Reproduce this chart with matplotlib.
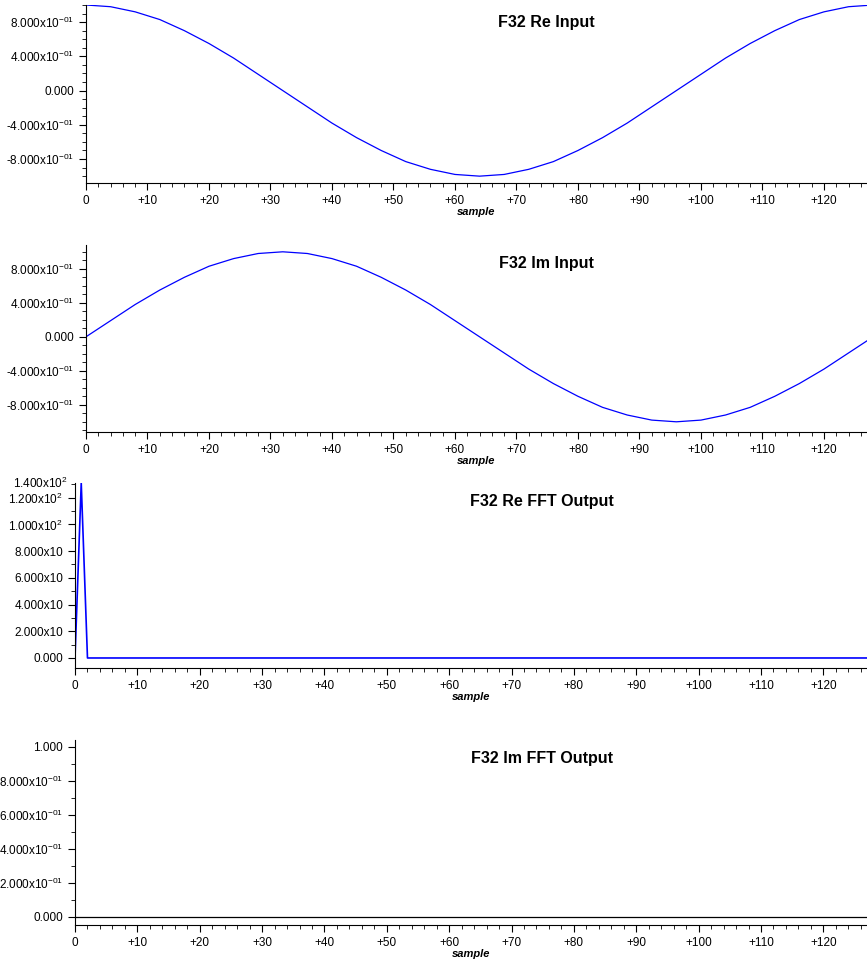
import matplotlib
matplotlib.use("Agg")
import matplotlib.pyplot as plt
from matplotlib.ticker import MultipleLocator

plt.rcParams["font.family"] = ["Liberation Sans", "DejaVu Sans"]
plt.rcParams["mathtext.fontset"] = "custom"
plt.rcParams["mathtext.rm"] = "Liberation Sans"
plt.rcParams["mathtext.it"] = "Liberation Sans:italic"
plt.rcParams["mathtext.bf"] = "Liberation Sans:bold"

samples4 = list(range(0, 129, 4))
re_input = [1.0, 0.98, 0.92, 0.83, 0.70, 0.55, 0.38, 0.19, 0.0, -0.19, -0.38, -0.55, -0.70, -0.83, -0.92, -0.98, -1.0,
            -0.98, -0.92, -0.83, -0.70, -0.55, -0.38, -0.19, 0.0, 0.19, 0.38, 0.55, 0.70, 0.83, 0.92, 0.98, 1.0]
im_input = [0.0, 0.19, 0.38, 0.55, 0.70, 0.83, 0.92, 0.98, 1.0, 0.98, 0.92, 0.83, 0.70, 0.55, 0.38, 0.19, 0.0,
            -0.19, -0.38, -0.55, -0.70, -0.83, -0.92, -0.98, -1.0, -0.98, -0.92, -0.83, -0.70, -0.55, -0.38, -0.19, 0.0]
fft_x = [0, 1, 2, 127]
re_fft = [0.0, 131.0, 0.0, 0.0]
im_fft_x = [0, 127]
im_fft = [0.0, 0.0]

x_ticks = list(range(0, 121, 10))
x_labels = ["0"] + ["+%d" % v for v in x_ticks[1:]]

fig = plt.figure(figsize=(8.67, 9.75), dpi=100)
H = 975.0
W = 867.0
FS = 8.5

def mk(left, top, bottom):
    return fig.add_axes([left / W, 1 - bottom / H, (W - left) / W, (bottom - top) / H])

def style(ax, title):
    for s in ("top", "right"):
        ax.spines[s].set_visible(False)
    ax.set_xlim(0, 127)
    ax.set_xticks(x_ticks)
    ax.set_xticklabels(x_labels, fontsize=FS)
    ax.xaxis.set_minor_locator(MultipleLocator(2))
    ax.tick_params(axis="both", which="major", length=5, labelsize=FS)
    ax.tick_params(axis="both", which="minor", length=3)
    ax.set_xlabel("sample", fontsize=8, fontstyle="italic", fontweight="bold", labelpad=0)
    ax.text(0.59, 0.9, title, transform=ax.transAxes, ha="center", va="center",
            fontsize=11.5, fontweight="bold")

def sci_labels(vals):
    out = []
    for v in vals:
        if abs(v) < 1e-9:
            out.append("0.000")
        else:
            out.append("%.3fx10$^{-01}$" % (v * 10))
    return out

sin_ticks = [-0.8, -0.4, 0.0, 0.4, 0.8]

ax1 = mk(86, 5, 183)
ax1.plot(samples4, re_input, color="blue", lw=0.9)
ax1.set_ylim(-1.08, 1.0)
ax1.set_yticks(sin_ticks)
ax1.set_yticklabels(sci_labels(sin_ticks))
ax1.yaxis.set_minor_locator(MultipleLocator(0.1))
style(ax1, "F32 Re Input")

ax2 = mk(86, 245, 432)
ax2.plot(samples4, im_input, color="blue", lw=0.9)
ax2.set_ylim(-1.12, 1.08)
ax2.set_yticks(sin_ticks)
ax2.set_yticklabels(sci_labels(sin_ticks))
ax2.yaxis.set_minor_locator(MultipleLocator(0.1))
style(ax2, "F32 Im Input")

ax3 = mk(75, 483, 668)
ax3.plot(fft_x, re_fft, color="blue", lw=1.2)
ax3.set_ylim(-7.5, 131)
t3 = [0, 20, 40, 60, 80, 100, 120]
ax3.set_yticks(t3)
ax3.set_yticklabels(["0.000", "2.000x10", "4.000x10", "6.000x10", "8.000x10",
                     "1.000x10$^{2}$", "1.200x10$^{2}$"])
ax3.yaxis.set_minor_locator(MultipleLocator(10))
ax3.text(-0.009, 1.0, "1.400x10$^{2}$", transform=ax3.transAxes, ha="right", va="center", fontsize=FS)
style(ax3, "F32 Re FFT Output")

ax4 = mk(75, 740, 925)
ax4.plot(im_fft_x, im_fft, color="black", lw=0.9)
ax4.set_ylim(-0.05, 1.04)
t4 = [0.0, 0.2, 0.4, 0.6, 0.8, 1.0]
ax4.set_yticks(t4)
ax4.set_yticklabels(["0.000", "2.000x10$^{-01}$", "4.000x10$^{-01}$", "6.000x10$^{-01}$",
                     "8.000x10$^{-01}$", "1.000"])
ax4.yaxis.set_minor_locator(MultipleLocator(0.1))
style(ax4, "F32 Im FFT Output")

fig.savefig("out.png", dpi=100)
